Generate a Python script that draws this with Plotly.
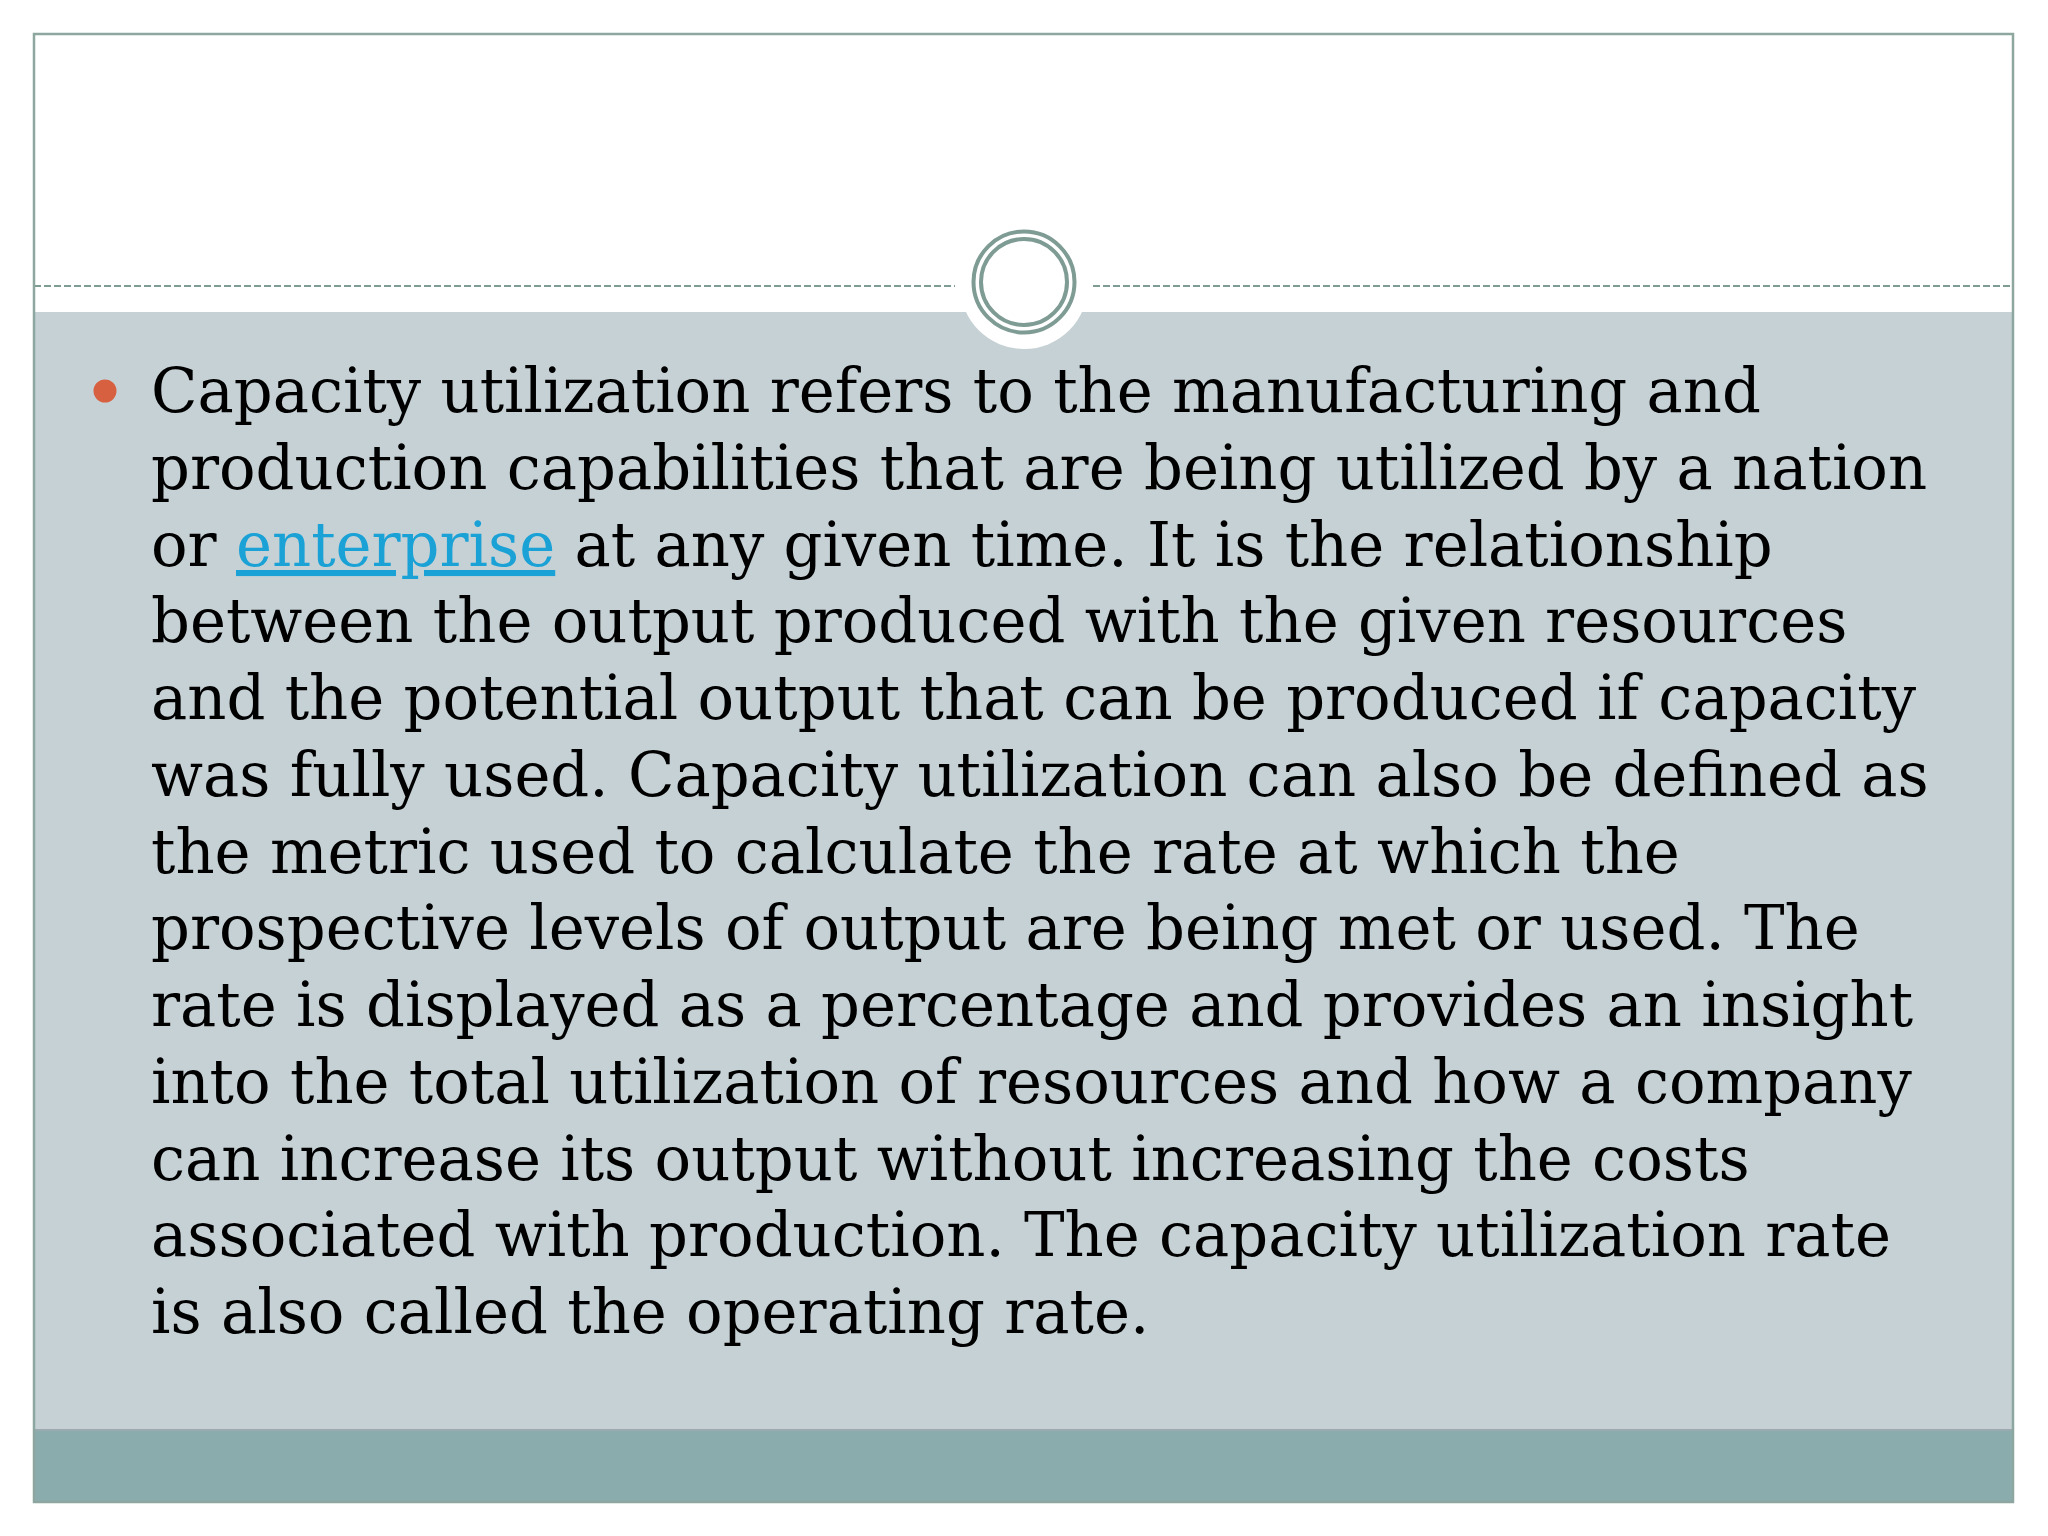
import plotly.graph_objects as go

W, H = 2048, 1536
OFF = 8  # page body margin compensation

# Text content of the slide (one entry per rendered line)
LINK_WORD = "enterprise"
lines = [
    "Capacity utilization refers to the manufacturing and",
    "production capabilities that are being utilized by a nation",
    "or {LINK} at any given time. It is the relationship",
    "between the output produced with the given resources",
    "and the potential output that can be produced if capacity",
    "was fully used. Capacity utilization can also be defined as",
    "the metric used to calculate the rate at which the",
    "prospective levels of output are being met or used. The",
    "rate is displayed as a percentage and provides an insight",
    "into the total utilization of resources and how a company",
    "can increase its output without increasing the costs",
    "associated with production. The capacity utilization rate",
    "is also called the operating rate.",
]

# Layout constants
FRAME = (34, 34, 2013, 1502)
BODY_TOP, BAND_TOP = 312, 1430
DASH_Y = 286
CIRCLE = (1024, 282)
TEXT_X = 150
BASE0 = 427
LINE_STEP = 76.75
FONT_SIZE = 60.8

BORDER = "#8DA69F"
BODY = "#C6D1D5"
BAND = "#8AACAD"
RING = "#7E9B94"
BULLET = "#D6603F"
LINK = "#1AA1D6"

fig = go.Figure()
shapes = []
shapes.append(dict(type="rect", x0=FRAME[0], x1=FRAME[2], y0=BODY_TOP, y1=BAND_TOP,
                   fillcolor=BODY, line=dict(width=0), layer="below"))
shapes.append(dict(type="rect", x0=FRAME[0], x1=FRAME[2], y0=BAND_TOP, y1=FRAME[3],
                   fillcolor=BAND, line=dict(width=0), layer="below"))
shapes.append(dict(type="line", x0=FRAME[0], x1=FRAME[2], y0=BAND_TOP, y1=BAND_TOP,
                   line=dict(color="#9AAAAE", width=2), layer="below"))
shapes.append(dict(type="line", x0=FRAME[0], x1=955, y0=DASH_Y, y1=DASH_Y,
                   line=dict(color=RING, width=1.8, dash="7px,3px")))
shapes.append(dict(type="line", x0=1093, x1=FRAME[2], y0=DASH_Y, y1=DASH_Y,
                   line=dict(color=RING, width=1.8, dash="7px,3px")))
cx, cy = CIRCLE
r = 64
shapes.append(dict(type="circle", x0=cx - r, x1=cx + r, y0=cy + 3 - r, y1=cy + 3 + r,
                   fillcolor="white", line=dict(width=0)))
for rr in (50.5, 43):
    shapes.append(dict(type="circle", x0=cx - rr, x1=cx + rr, y0=cy - rr, y1=cy + rr,
                       line=dict(color=RING, width=4)))
br = 11.5
shapes.append(dict(type="circle", x0=105 - br, x1=105 + br, y0=391 - br, y1=391 + br,
                   fillcolor=BULLET, line=dict(width=0)))
shapes.append(dict(type="rect", x0=FRAME[0], x1=FRAME[2], y0=FRAME[1], y1=FRAME[3],
                   line=dict(color=BORDER, width=2.5)))

annotations = []
for i, ln in enumerate(lines):
    txt = ln.replace("{LINK}", f'<span style="color:{LINK}"><u>{LINK_WORD}</u></span>')
    annotations.append(dict(
        x=TEXT_X, y=BASE0 + i * LINE_STEP, xref="x", yref="y",
        text=txt, showarrow=False, xanchor="left", yanchor="bottom",
        font=dict(family="DejaVu Serif", size=FONT_SIZE, color="#000000"),
        borderpad=0,
    ))

fig.update_layout(
    width=W, height=H, margin=dict(l=0, r=0, t=0, b=0),
    paper_bgcolor="white", plot_bgcolor="white",
    xaxis=dict(range=[OFF, W + OFF], visible=False, fixedrange=True),
    yaxis=dict(range=[H + OFF, OFF], visible=False, fixedrange=True),
    shapes=shapes, annotations=annotations, showlegend=False,
)
fig.write_html("out.html", config={"displayModeBar": False})
